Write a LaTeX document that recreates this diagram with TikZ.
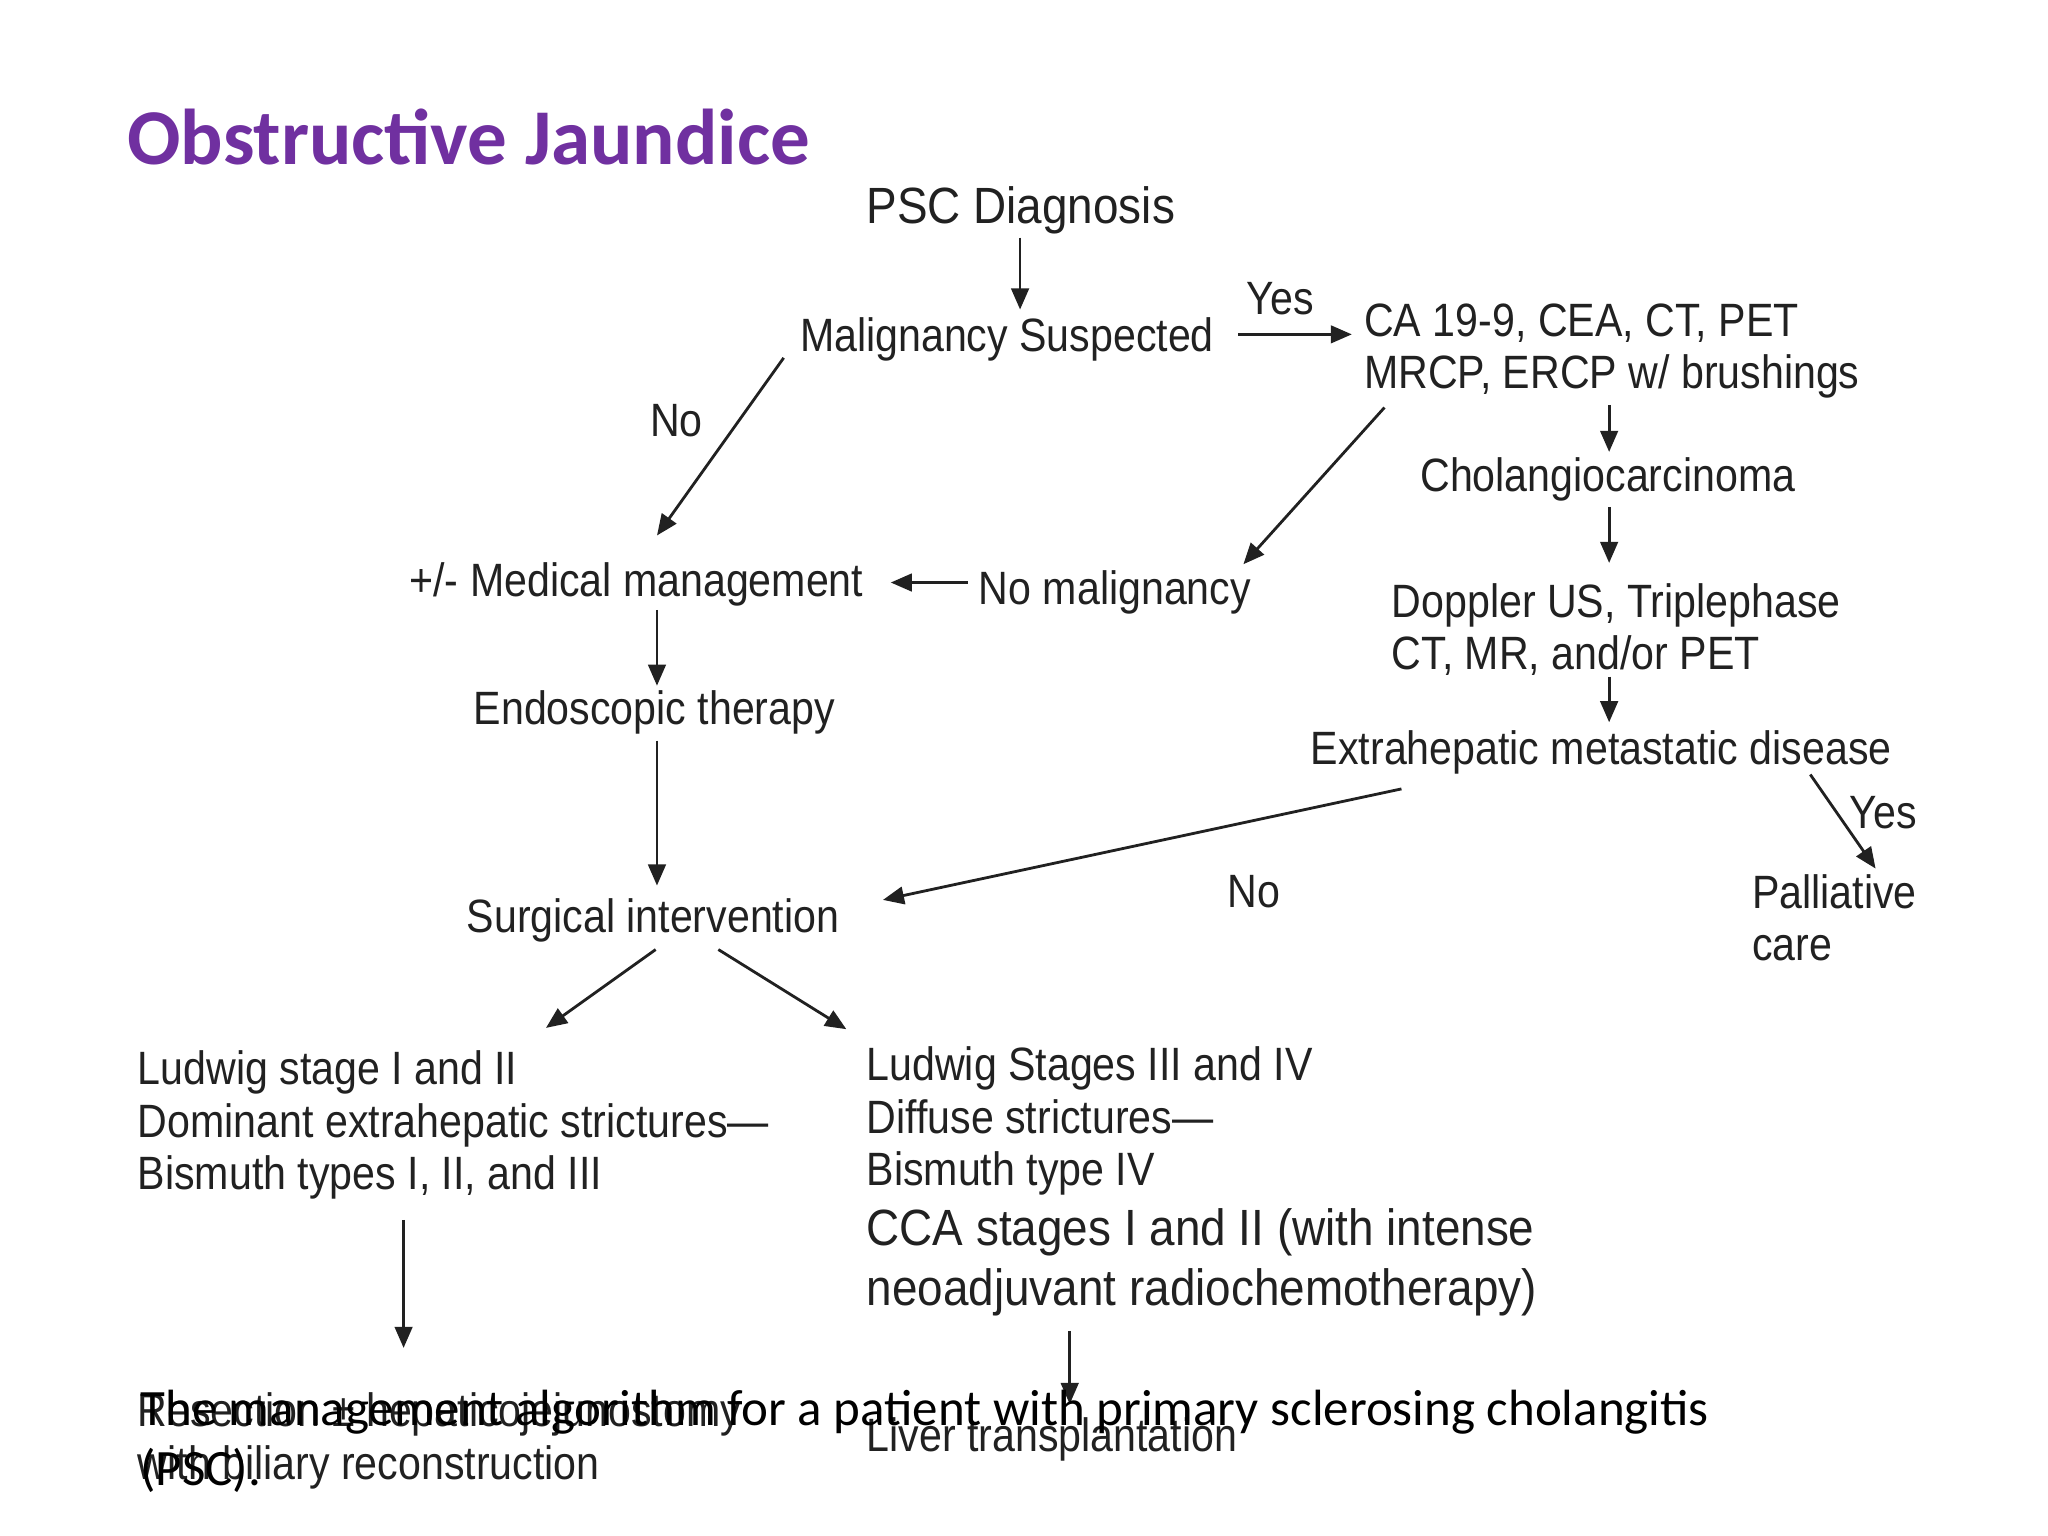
\documentclass[tikz,border=0pt]{standalone}
\usepackage{fontspec}
\setmainfont{Carlito}
\newfontfamily\chartfont[FakeStretch=0.88]{Liberation Sans}
\newfontfamily\chartbigfont[FakeStretch=0.9]{Liberation Sans}
\usetikzlibrary{calc, arrows.meta}
\definecolor{titlepurple}{RGB}{112,48,160}
\definecolor{chartink}{gray}{0.13}

\tikzset{
  chart/.style={font=\chartfont\fontsize{13.3}{14.9}\selectfont, text=chartink, inner sep=0pt},
  chartpara/.style={chart, align=left, anchor=north west},
  chartbig/.style={font=\chartbigfont\fontsize{14.5}{17.1}\selectfont, text=chartink, inner sep=0pt},
  flow/.style={draw=chartink, line width=0.8pt, -{Triangle[length=6pt, width=5pt]}},
}

\begin{document}
\begin{tikzpicture}[x=0.013061cm, y=-0.013061cm]
    \useasboundingbox (0,0) rectangle (1568,1176);

    % Slide title
    \node[anchor=base west, inner sep=0pt, text=titlepurple,
          font=\fontsize{22.5}{27}\selectfont\bfseries] (title) at (97,126) {Obstructive Jaundice};

    % Flowchart boxes (text only)
    \node[chartbig, anchor=base west] (psc)   at (663,171)  {PSC Diagnosis};
    \node[chart, anchor=base west] (malig)    at (612,269)  {Malignancy Suspected};
    \node[chartpara] (tests)                  at (1044,232) {CA 19-9, CEA, CT, PET\\MRCP, ERCP w/ brushings};
    \node[chart, anchor=base] (cholangio)     at (1231,376) {Cholangiocarcinoma};
    \node[chart, anchor=base west] (medical)  at (313,457)  {+/- Medical management};
    \node[chart, anchor=base west] (nomal)    at (749,463)  {No malignancy};
    \node[chartpara] (doppler)                at (1065,446) {Doppler US, Triplephase\\CT, MR, and/or PET};
    \node[chart, anchor=base] (endo)          at (501,555)  {Endoscopic therapy};
    \node[chart, anchor=base] (extra)         at (1226,585) {Extrahepatic metastatic disease};
    \node[chartpara] (palliative)             at (1341,669) {Palliative\\care};
    \node[chart, anchor=base] (surgical)      at (500,714)  {Surgical intervention};
    \node[chartpara] (ludwiglow)              at (105,804)  {Ludwig stage I and II\\Dominant extrahepatic strictures—\\Bismuth types I, II, and III};
    \node[chartpara] (ludwighigh)             at (663,801)  {Ludwig Stages III and IV\\Diffuse strictures—\\Bismuth type IV};
    \node[chartbig, align=left, anchor=north west] (cca) at (663,925) {CCA stages I and II (with intense\\neoadjuvant radiochemotherapy)};
    \node[chartpara] (resect)                 at (105,1066) {Resection ± hepaticojejunostomy\\with biliary reconstruction};
    \node[chart, anchor=base west] (liver)    at (663,1111) {Liver transplantation};

    % Branch labels
    \node[chart, anchor=base] (yestop)  at (980,241)  {Yes};
    \node[chart, anchor=base] (noleft)  at (518,334)  {No};
    \node[chart, anchor=base] (nomid)   at (960,695)  {No};
    \node[chart, anchor=base] (yesright) at (1442,634) {Yes};

    % Connectors
    \draw[flow] ($(psc.base west)+(118,11)$) -- ($(malig.base west)+(169,-32)$);
    \draw[flow] ($(malig.base west)+(336,-13)$) -- ($(tests.north west)+(-9,24)$);
    \draw[flow] ($(malig.base west)+(-12,5)$) -- ($(medical.base west)+(190,-47)$);
    \draw[flow] ($(tests.north west)+(16,80)$) -- ($(nomal.base west)+(203,-31)$);
    \draw[flow] ($(tests.north west)+(188,78)$) -- ($(cholangio.base)+(1,-30)$);
    \draw[flow] ($(cholangio.base)+(1,12)$) -- ($(doppler.north west)+(167,-15)$);
    \draw[flow] ($(nomal.base west)+(-8,-17)$) -- ($(medical.base west)+(369,-11)$);
    \draw[flow] ($(medical.base west)+(190,10)$) -- ($(endo.base)+(2,-30)$);
    \draw[flow] ($(doppler.north west)+(167,72)$) -- ($(extra.base)+(6,-32)$);
    \draw[flow] ($(endo.base)+(2,12)$) -- ($(surgical.base)+(3,-36)$);
    \draw[flow] ($(extra.base)+(-153,19)$) -- ($(surgical.base)+(176,-25)$);
    \draw[flow] ($(extra.base)+(160,8)$) -- ($(palliative.north west)+(95,-4)$);
    \draw[flow] ($(surgical.base)+(2,13)$) -- ($(ludwiglow.north west)+(313,-17)$);
    \draw[flow] ($(surgical.base)+(50,13)$) -- ($(ludwighigh.north west)+(-15,-13)$);
    \draw[flow] ($(ludwiglow.north west)+(204,130)$) -- ($(resect.north west)+(204,-34)$);
    \draw[flow] ($(cca.north west)+(156,94)$) -- ($(liver.base west)+(156,-36)$);

    % Caption over the figure
    \node[anchor=north west, inner sep=0pt, align=left,
          font=\fontsize{14.5}{17.05}\selectfont] (caption) at (107,1064)
          {The management algorithm for a patient with primary sclerosing cholangitis\\(PSC).};

\end{tikzpicture}
\end{document}
